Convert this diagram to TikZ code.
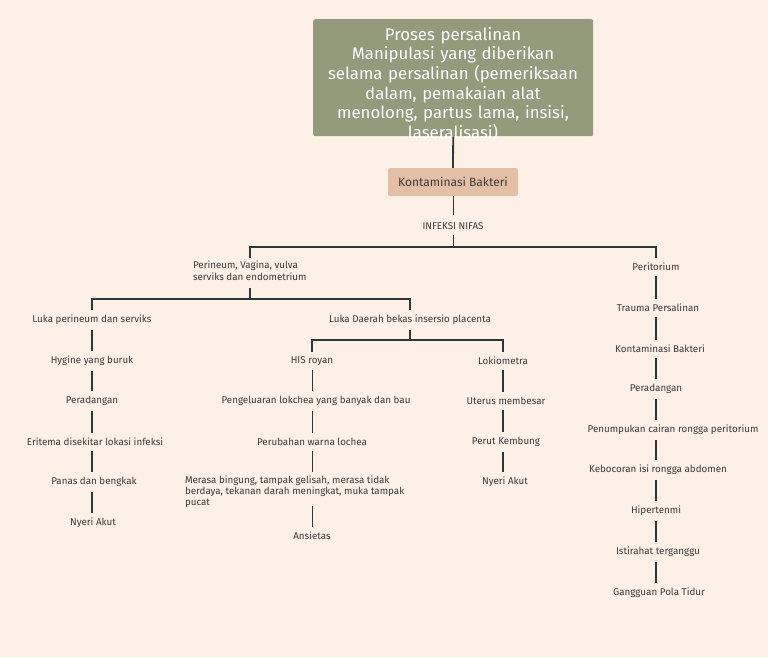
\documentclass[tikz,border=0pt]{standalone}
\usepackage{fontspec}
\setmainfont{Fira Sans}
\definecolor{bg}{HTML}{FDF0E6}
\definecolor{boxg}{HTML}{949A7C}
\definecolor{boxp}{HTML}{E4BFA7}
\definecolor{txt}{HTML}{3A3A3A}
\definecolor{ln}{HTML}{2E3838}
\begin{document}
\begin{tikzpicture}[x=1pt,y=-1pt,
  t/.style={font=\fontsize{9.8}{12}\selectfont,text=txt,inner sep=1pt,outer sep=4pt},
  thick line/.style={draw=ln,line width=1.8pt},
  thin line/.style={draw=ln,line width=0.9pt}]
\fill[bg] (0,0) rectangle (768,657);
\useasboundingbox (0,0) rectangle (768,657);
% top
\node[fill=boxg,rounded corners=2pt,minimum width=280,minimum height=117,inner sep=0,anchor=north west] (top) at (313,19) {};
\node[text=white,font=\fontsize{16.8}{19.6}\selectfont,align=center,text width=275,anchor=north,inner sep=0] (toptxt) at (453,27)
 {Proses persalinan\\Manipulasi yang diberikan\\selama persalinan (pemeriksaan\\dalam, pemakaian alat\\menolong, partus lama, insisi,\\laseralisasi)};
\node[fill=boxp,rounded corners=2pt,minimum width=130,minimum height=28,inner sep=0,text=txt,font=\fontsize{12}{14}\selectfont] (kb) at (453,182) {Kontaminasi Bakteri};
\draw[thick line] (top.south) -- (kb.north);
\node[t] (inf) at (453,226) {INFEKSI NIFAS};
\draw[thin line] (kb.south) -- ++(0,19);
\coordinate (j1) at (453,247);
\coordinate (jl) at (250,247);
\coordinate (jr) at (656,247);
\draw[thin line] (inf.south) -- (j1);
\draw[thick line] (jl) ++(0,11) |- (jr) -- ++(0,11);
% second level
\node[t,align=left,anchor=north west,outer sep=0] (per) at (192,260) {Perineum, Vagina, vulva\\serviks dan endometrium};
\node[t] (pt) at (656,267) {Peritorium};
\coordinate (p1) at (250,288);
\coordinate (p2) at (250,299);
\draw[thick line] (p1) -- (p2);
\node[t] (lp) at (92,320) {Luka perineum dan serviks};
\node[t] (ld) at (410,320) {Luka Daerah bekas insersio placenta};
\draw[thick line] (lp.north) |- (p2) -| (ld.north);
% left chain
\node[t] (a1) at (92,361) {Hygine yang buruk};
\node[t] (a2) at (92,401) {Peradangan};
\node[t] (a3) at (95,442) {Eritema disekitar lokasi infeksi};
\node[t] (a4) at (94,482) {Panas dan bengkak};
\node[t] (a5) at (93,523) {Nyeri Akut};
\foreach \u/\v in {lp/a1,a1/a2,a2/a3,a3/a4,a4/a5} \draw[thick line] (\u.south -| lp) -- (\v.north -| lp);
% middle
\coordinate (m1) at (410,340);
\node[t] (h1) at (312,361) {HIS royan};
\node[t] (k1) at (503,361) {Lokiometra};
\draw[thick line] (ld) -- (m1);
\draw[thick line] (h1.north) |- (m1) -| (k1.north);
\node[t] (h2) at (316,401) {Pengeluaran lokchea yang banyak dan bau};
\node[t] (h3) at (312,442) {Perubahan warna lochea};
\node[t,align=left,anchor=north west,outer sep=0] (h4) at (184,475) {Merasa bingung, tampak gelisah, merasa tidak\\[-1pt]berdaya, tekanan darah meningkat, muka tampak\\[-1pt]pucat};
\node[t] (h5) at (312,536) {Ansietas};
\draw[thin line] (h1) -- (h2.north -| h1);
\draw[thin line] (h2.south -| h1) -- (h3);
\draw[thin line] (h3) -- (312,472);
\draw[thin line] (312,506) -- (h5);
\node[t] (k2) at (506,401) {Uterus membesar};
\node[t] (k3) at (506,442) {Perut Kembung};
\node[t] (k4) at (505,482) {Nyeri Akut};
\draw[thick line] (k1) -- (k2.north -| k1);
\draw[thick line] (k2.south -| k1) -- (k3.north -| k1);
\draw[thick line] (k3.south -| k1) -- (k4.north -| k1);
% right
\node[t] (r1) at (658,308) {Trauma Persalinan};
\node[t] (r2) at (660,349) {Kontaminasi Bakteri};
\node[t] (r3) at (656,389) {Peradangan};
\node[t] (r4) at (673,430) {Penumpukan cairan rongga peritorium};
\node[t] (r5) at (658,470) {Kebocoran isi rongga abdomen};
\node[t] (r6) at (656,511) {Hipertenmi};
\node[t] (r7) at (658,552) {Istirahat terganggu};
\node[t] (r8) at (659,593) {Gangguan Pola Tidur};
\foreach \u/\v in {pt/r1,r1/r2,r2/r3,r3/r4,r4/r5,r5/r6,r6/r7,r7/r8} \draw[thick line] (\u.south -| pt) -- (\v.north -| pt);
\end{tikzpicture}
\end{document}
